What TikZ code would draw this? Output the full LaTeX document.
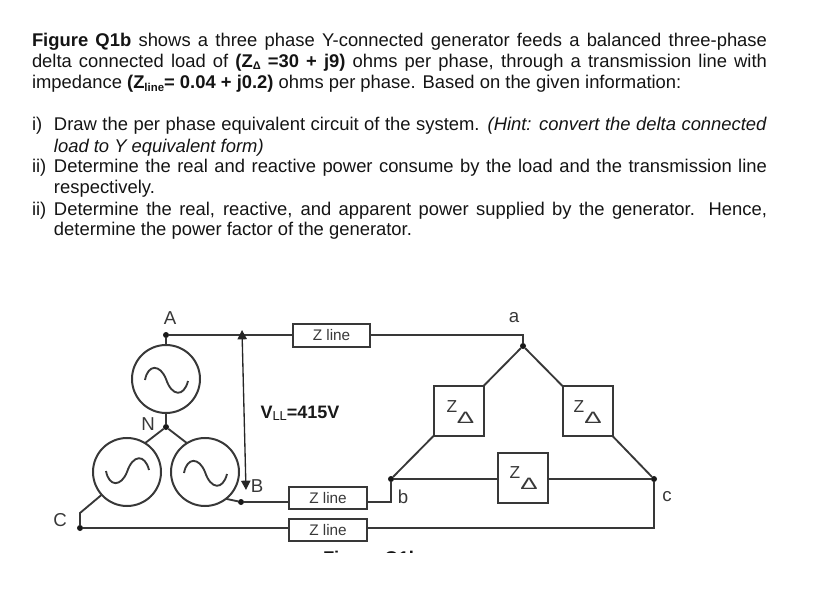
\documentclass[tikz,border=0pt]{standalone}
\usepackage{fontspec}
\setmainfont{Liberation Sans}
\usetikzlibrary{arrows.meta,calc}
\newlength{\pxu}\setlength{\pxu}{0.75pt}
\newcommand{\bodyfont}{\fontsize{13.8}{16}\selectfont}
\newcommand{\fullline}[2]{\makebox[#1\pxu][s]{#2}}
\newcommand{\deltamark}{\scalebox{1.5}[0.95]{Δ}}
\definecolor{ink}{gray}{0.22}
\tikzset{
  x=0.75pt,y=-0.75pt,
  txt/.style={anchor=base west,inner sep=0pt,outer sep=0pt,text=black!92,font=\bodyfont},
  wire/.style={draw=ink,line width=1.4pt},
  gen/.style={circle,draw=ink,line width=1.5pt,minimum size=51pt,inner sep=0pt,outer sep=0pt},
  dotn/.style={circle,fill=black!90,minimum size=4.5pt,inner sep=0pt,outer sep=0pt},
  zline/.style={draw=ink,line width=1.4pt,inner sep=0pt,outer sep=0pt,minimum width=58pt,minimum height=17pt,text=ink,font=\fontsize{11.5}{12}\selectfont},
  zbox/.style={draw=ink,line width=1.5pt,inner sep=0pt,outer sep=0pt,minimum width=37.5pt,minimum height=37.5pt},
  lab/.style={text=ink,inner sep=0pt,font=\fontsize{14}{16}\selectfont},
  zlab/.style={text=ink,inner sep=0pt,font=\fontsize{13}{14}\selectfont},
  dlab/.style={text=ink,inner sep=0pt,font=\fontsize{13}{14}\selectfont},
  sinewave/.pic={\draw[ink,line width=1.4pt] (-21,1) .. controls (-18,-15) and (-6,-15) .. (0,0) .. controls (6,18) and (18,18) .. (22,2);}
}
\begin{document}
\begin{tikzpicture}
\useasboundingbox (0,0) rectangle (819,610);
% question text
\node[txt] (t1) at (32,46.5) {\fullline{735}{\textbf{Figure Q1b} shows a three phase Y-connected generator feeds a balanced three-phase}};
\node[txt] (t2) at (32,67.5) {\fullline{735}{delta connected load of \textbf{(Z\raisebox{-0.2ex}{\scalebox{0.6}{Δ}} =30 + j9)} ohms per phase, through a transmission line with}};
\node[txt] (t3) at (32,88.5) {impedance \textbf{(Z\raisebox{-0.3ex}{\scalebox{0.62}{line}}= 0.04 + j0.2)} ohms per phase. Based on the given information:};
\node[txt] (t4a) at (32,131) {i)};
\node[txt] (t4) at (54,131) {\fullline{713}{Draw the per phase equivalent circuit of the system. \textit{(Hint: convert the delta connected}}};
\node[txt] (t5) at (54,152) {\textit{load to Y equivalent form)}};
\node[txt] (t6a) at (32,173) {ii)};
\node[txt] (t6) at (54,173) {\fullline{713}{Determine the real and reactive power consume by the load and the transmission line}};
\node[txt] (t7) at (54,194) {respectively.};
\node[txt] (t8a) at (32,215) {ii)};
\node[txt] (t8) at (54,215) {\fullline{713}{Determine the real, reactive, and apparent power supplied by the generator. Hence,}};
\node[txt] (t9) at (54,236) {determine the power factor of the generator.};
% generators
\node[gen] (GA) at (166,379) {};
\node[gen] (GC) at (127,472) {};
\node[gen] (GB) at (205,472) {};
\pic at (166,379) {sinewave};
\pic[yscale=-1] at (127,472) {sinewave};
\pic at (205,472) {sinewave};
% dots
\node[dotn] (A) at (166,335) {};
\node[dotn] (N) at (166,427) {};
\node[dotn] (B) at (241,502) {};
\node[dotn] (C) at (80,528) {};
\node[dotn] (a) at (523,346) {};
\node[dotn] (b) at (391,479) {};
\node[dotn] (c) at (654,479) {};
% line impedances
\node[zline] (ZA) at (331.5,335.5) {Z line};
\node[zline] (ZB) at (328,498) {Z line};
\node[zline] (ZC) at (328,530) {Z line};
% delta impedances
\node[zbox] (Z1) at (458.5,411) {};
\node[zbox] (Z2) at (587.5,411) {};
\node[zbox] (Z3) at (522.5,477.5) {};
\node[zlab] (z1t) at (452,407) {Z};
\node[dlab] (d1t) at (465.5,418) {\deltamark};
\node[zlab] (z2t) at (579,407) {Z};
\node[dlab] (d2t) at (593,418) {\deltamark};
\node[zlab] (z3t) at (515,473) {Z};
\node[dlab] (d3t) at (529,484) {\deltamark};
% junction corners
\coordinate (aT) at (523,335);
\coordinate (bL) at (391,502);
\coordinate (cL) at (654,528);
\coordinate (CU) at (80,513);
\coordinate (vT) at (242,330);
\coordinate (vB) at (246,490);
% wiring
\draw[wire] (A) -- (GA.north);
\draw[wire] (GA.south) -- (N);
\draw[wire] (N) -- (GC.58);
\draw[wire] (N) -- (GB.122);
\draw[wire] (GB.-52) -- (B);
\draw[wire] (GC.222) -- (CU) -- (C);
\draw[wire] (A) -- (A -| ZA.west);
\draw[wire] (A -| ZA.east) -- (aT) -- (a);
\draw[wire] (B) -- (B -| ZB.west);
\draw[wire] (B -| ZB.east) -- (bL) -- (b);
\draw[wire] (C) -- (C -| ZC.west);
\draw[wire] (C -| ZC.east) -- (cL) -- (c);
\draw[wire] (a) -- (Z1.north east);
\draw[wire] (a) -- (Z2.north west);
\draw[wire] (Z1.south west) -- (b);
\draw[wire] (Z2.south east) -- (c);
\draw[wire] (b) -- (b -| Z3.west);
\draw[wire] (b -| Z3.east) -- (c);
% voltage arrow
\draw[draw=black!85,line width=1pt,{Triangle[width=7pt,length=7pt]}-{Triangle[width=7pt,length=7pt]}] (vT) -- (vB);
% labels
\node[lab] (lA) at (170,318) {A};
\node[lab] (lN) at (148,424) {N};
\node[lab] (lB) at (257,486) {B};
\node[lab] (lC) at (60,520) {C};
\node[lab] (la) at (514,318) {a};
\node[lab] (lb) at (403,497) {b};
\node[lab] (lc) at (667,497) {c};
\node[inner sep=0pt,text=black!90] (vll) at (300,413) {\fontsize{13.5}{14}\selectfont\textbf{V\raisebox{-0.2ex}{\scalebox{0.72}{\mdseries LL}}=415V}};
% caption cut off by the image edge
\begin{scope}
\clip (300,540) rectangle (450,552);
\node[txt] (cap) at (323,564) {\textbf{Figure Q1b}};
\end{scope}
\end{tikzpicture}
\end{document}
